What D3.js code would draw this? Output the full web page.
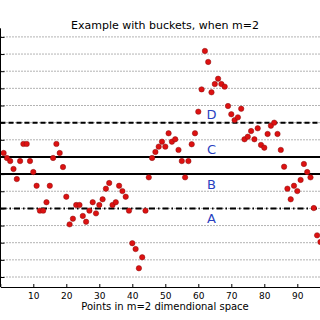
<!DOCTYPE html>
<html><head><meta charset="utf-8">
<script src="https://cdn.jsdelivr.net/npm/d3@7"></script>
<style>body{margin:0;background:#fff}svg{display:block}</style>
</head><body>
<svg id="c" width="320" height="320"></svg>
<script>
const pointX = d3.range(1, 98);
const pointY = [7.23,6.94,6.76,6.30,5.71,6.76,7.76,7.76,6.76,6.12,
  5.32,3.87,3.87,4.36,5.32,6.94,7.76,7.23,6.41,4.68,
  3.07,3.40,4.20,4.20,3.56,3.22,3.87,4.36,3.71,4.20,
  4.53,5.15,5.48,4.20,4.36,5.32,5.01,4.68,3.87,1.97,
  1.63,0.51,1.15,3.87,5.81,6.94,7.29,7.60,7.89,7.60,
  8.38,7.89,8.03,7.41,6.76,5.81,6.76,7.74,8.38,9.64,
  10.94,13.18,12.54,10.77,11.25,11.56,11.25,11.10,9.97,9.49,
  9.15,9.31,9.81,8.03,8.18,8.51,8.03,8.67,7.70,7.54,
  8.34,8.82,9.00,8.34,7.41,6.43,5.15,4.53,5.32,5.01,
  5.66,6.59,6.12,5.81,4.02,2.43,2.04];
const xTicks = [0,10,20,30,40,50,60,70,80,90];
const gridY = d3.range(0, 15);
const boundaries = [4, 6, 7, 9];
const bucketNames = ["A","B","C","D"];
const bucketLabelY = [3.42, 5.42, 7.45, 9.45];
const bucketLabelX = 64;
const title = "Example with buckets, when m=2";
const xLabel = "Points in m=2 dimendional space";

const svg = d3.select("#c");
const x = d3.scaleLinear().domain([0, 97]).range([0.3, 320.4]);
const y = d3.scaleLinear().domain([-0.583, 14.5]).range([287, 277 - 17.15*14.5]);
const left = 0.5, right = 320, bottom = 287;

svg.append("defs").append("clipPath").attr("id","clip")
  .append("rect").attr("x",left).attr("y",0).attr("width",right-left).attr("height",bottom);

// grid
svg.append("g").selectAll("line").data(gridY).join("line")
  .attr("x1", left).attr("x2", right)
  .attr("y1", d => y(d)).attr("y2", d => y(d))
  .attr("stroke", "#666").attr("stroke-width", 1).attr("stroke-dasharray", "1,2");

// boundaries
const bStyles = ["6,3,1.5,3", null, null, "5,3"];
svg.append("g").selectAll("line").data(boundaries).join("line")
  .attr("x1", left).attr("x2", right)
  .attr("y1", d => y(d)).attr("y2", d => y(d))
  .attr("stroke", "#000").attr("stroke-width", 2)
  .attr("stroke-dasharray", (d,i) => bStyles[i]);

// labels
svg.append("g").selectAll("text").data(bucketNames).join("text")
  .attr("x", x(bucketLabelX)).attr("y", (d,i) => y(bucketLabelY[i]))
  .attr("text-anchor","middle").attr("dominant-baseline","central")
  .attr("font-family","DejaVu Sans").attr("font-size", 13)
  .attr("fill","#2a3fbf").text(d => d);

// points
svg.append("g").attr("clip-path","url(#clip)").selectAll("circle").data(pointX).join("circle")
  .attr("cx", d => x(d)).attr("cy", (d,i) => y(pointY[i])).attr("r", 2.7)
  .attr("fill", "#dd1111").attr("stroke","#881010").attr("stroke-width",0.5);

// axes
const xAxis = d3.axisBottom(x).tickValues(xTicks).tickSizeInner(-3).tickSizeOuter(0).tickPadding(6);
const gx = svg.append("g").attr("transform", `translate(0,${bottom})`).call(xAxis);
gx.select(".domain").attr("stroke","#000");
gx.selectAll(".tick line").attr("stroke","#000");
gx.selectAll(".tick text").attr("font-family","DejaVu Sans").attr("font-size", 9).attr("fill","#000");
gx.selectAll(".tick").filter(d => d === 0).select("text").remove();

const yAxis = d3.axisLeft(y).tickValues(gridY).tickSizeInner(-4).tickSizeOuter(0).tickFormat("");
const gy = svg.append("g").attr("transform", `translate(${left},0)`).call(yAxis);
gy.select(".domain").attr("stroke","#000").attr("d", `M0,${y(14.5)}V${bottom}`);
gy.selectAll(".tick line").attr("stroke","#000");

svg.append("text").attr("x", 165).attr("y", 29).attr("text-anchor","middle")
  .attr("font-family","DejaVu Sans").attr("font-size", 11).text(title);
svg.append("text").attr("x", 165).attr("y", 310).attr("text-anchor","middle")
  .attr("font-family","DejaVu Sans").attr("font-size", 10).text(xLabel);
</script>
</body></html>
